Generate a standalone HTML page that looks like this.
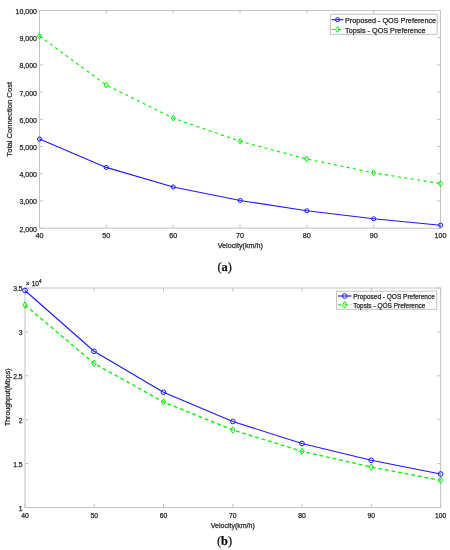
<!DOCTYPE html>
<html><head><meta charset="utf-8"><style>
html,body{margin:0;padding:0;background:#fff;width:450px;height:550px;overflow:hidden}
svg{display:block;font-family:"Liberation Sans",Arial,sans-serif}
text{stroke:#2a2a2a;stroke-width:0.25px}
</style></head><body>
<svg width="450" height="550" viewBox="0 0 450 550">
<rect x="39.5" y="10.5" width="401" height="217.7" fill="none" stroke="#c4c4c4" stroke-width="1"/>
<path d="M39.5 228.2v-3.5M39.5 10.5v3.5" stroke="#c4c4c4" stroke-width="1"/>
<text x="39.5" y="238.3" text-anchor="middle" font-size="7.2" fill="#262626">40</text>
<path d="M106.33 228.2v-3.5M106.33 10.5v3.5" stroke="#c4c4c4" stroke-width="1"/>
<text x="106.33" y="238.3" text-anchor="middle" font-size="7.2" fill="#262626">50</text>
<path d="M173.17 228.2v-3.5M173.17 10.5v3.5" stroke="#c4c4c4" stroke-width="1"/>
<text x="173.17" y="238.3" text-anchor="middle" font-size="7.2" fill="#262626">60</text>
<path d="M240 228.2v-3.5M240 10.5v3.5" stroke="#c4c4c4" stroke-width="1"/>
<text x="240" y="238.3" text-anchor="middle" font-size="7.2" fill="#262626">70</text>
<path d="M306.83 228.2v-3.5M306.83 10.5v3.5" stroke="#c4c4c4" stroke-width="1"/>
<text x="306.83" y="238.3" text-anchor="middle" font-size="7.2" fill="#262626">80</text>
<path d="M373.67 228.2v-3.5M373.67 10.5v3.5" stroke="#c4c4c4" stroke-width="1"/>
<text x="373.67" y="238.3" text-anchor="middle" font-size="7.2" fill="#262626">90</text>
<path d="M440.5 228.2v-3.5M440.5 10.5v3.5" stroke="#c4c4c4" stroke-width="1"/>
<text x="440.5" y="238.3" text-anchor="middle" font-size="7.2" fill="#262626">100</text>
<path d="M39.5 228.2h3.5M440.5 228.2h-3.5" stroke="#c4c4c4" stroke-width="1"/>
<text x="37" y="231.56" text-anchor="end" font-size="7" fill="#262626">2,000</text>
<path d="M39.5 200.99h3.5M440.5 200.99h-3.5" stroke="#c4c4c4" stroke-width="1"/>
<text x="37" y="204.35" text-anchor="end" font-size="7" fill="#262626">3,000</text>
<path d="M39.5 173.77h3.5M440.5 173.77h-3.5" stroke="#c4c4c4" stroke-width="1"/>
<text x="37" y="177.13" text-anchor="end" font-size="7" fill="#262626">4,000</text>
<path d="M39.5 146.56h3.5M440.5 146.56h-3.5" stroke="#c4c4c4" stroke-width="1"/>
<text x="37" y="149.92" text-anchor="end" font-size="7" fill="#262626">5,000</text>
<path d="M39.5 119.35h3.5M440.5 119.35h-3.5" stroke="#c4c4c4" stroke-width="1"/>
<text x="37" y="122.71" text-anchor="end" font-size="7" fill="#262626">6,000</text>
<path d="M39.5 92.14h3.5M440.5 92.14h-3.5" stroke="#c4c4c4" stroke-width="1"/>
<text x="37" y="95.5" text-anchor="end" font-size="7" fill="#262626">7,000</text>
<path d="M39.5 64.93h3.5M440.5 64.93h-3.5" stroke="#c4c4c4" stroke-width="1"/>
<text x="37" y="68.29" text-anchor="end" font-size="7" fill="#262626">8,000</text>
<path d="M39.5 37.71h3.5M440.5 37.71h-3.5" stroke="#c4c4c4" stroke-width="1"/>
<text x="37" y="41.07" text-anchor="end" font-size="7" fill="#262626">9,000</text>
<path d="M39.5 10.5h3.5M440.5 10.5h-3.5" stroke="#c4c4c4" stroke-width="1"/>
<text x="37" y="13.86" text-anchor="end" font-size="7" fill="#262626">10,000</text>
<path d="M39.5 36 L106.2 85 L173.3 118.2 L240.2 141.3 L306.7 159 L373.5 172.8 L440.6 183.6" fill="none" stroke="#00f200" stroke-width="1.1" stroke-dasharray="3.2 3.3"/>
<path d="M39.5 33.1L41.5 36L39.5 38.9L37.5 36Z" fill="none" stroke="#00f200" stroke-width="1"/>
<path d="M106.2 82.1L108.2 85L106.2 87.9L104.2 85Z" fill="none" stroke="#00f200" stroke-width="1"/>
<path d="M173.3 115.3L175.3 118.2L173.3 121.1L171.3 118.2Z" fill="none" stroke="#00f200" stroke-width="1"/>
<path d="M240.2 138.4L242.2 141.3L240.2 144.2L238.2 141.3Z" fill="none" stroke="#00f200" stroke-width="1"/>
<path d="M306.7 156.1L308.7 159L306.7 161.9L304.7 159Z" fill="none" stroke="#00f200" stroke-width="1"/>
<path d="M373.5 169.9L375.5 172.8L373.5 175.7L371.5 172.8Z" fill="none" stroke="#00f200" stroke-width="1"/>
<path d="M440.6 180.7L442.6 183.6L440.6 186.5L438.6 183.6Z" fill="none" stroke="#00f200" stroke-width="1"/>
<path d="M39.5 139 L106.2 167.4 L173.2 187 L240.2 200.5 L306.8 210.8 L373.7 218.8 L440.6 225.2" fill="none" stroke="#1a1aff" stroke-width="1.1"/>
<circle cx="39.5" cy="139" r="2.05" fill="none" stroke="#1a1aff" stroke-width="1"/>
<circle cx="106.2" cy="167.4" r="2.05" fill="none" stroke="#1a1aff" stroke-width="1"/>
<circle cx="173.2" cy="187" r="2.05" fill="none" stroke="#1a1aff" stroke-width="1"/>
<circle cx="240.2" cy="200.5" r="2.05" fill="none" stroke="#1a1aff" stroke-width="1"/>
<circle cx="306.8" cy="210.8" r="2.05" fill="none" stroke="#1a1aff" stroke-width="1"/>
<circle cx="373.7" cy="218.8" r="2.05" fill="none" stroke="#1a1aff" stroke-width="1"/>
<circle cx="440.6" cy="225.2" r="2.05" fill="none" stroke="#1a1aff" stroke-width="1"/>
<rect x="330.5" y="14.3" width="106.7" height="20" fill="#fff" stroke="#c4c4c4" stroke-width="1"/>
<path d="M331.5 19.7H343.5" stroke="#1a1aff" stroke-width="1.1"/>
<circle cx="337.5" cy="19.7" r="2.05" fill="none" stroke="#1a1aff" stroke-width="1"/>
<path d="M331.5 29.5H343.5" stroke="#00f200" stroke-width="1.1" stroke-dasharray="3.2 3.3"/>
<path d="M337.5 26.6L339.5 29.5L337.5 32.4L335.5 29.5Z" fill="none" stroke="#00f200" stroke-width="1"/>
<text x="345" y="23.04" font-size="7.25" fill="#262626">Proposed - QOS Preference</text>
<text x="345" y="32.84" font-size="7.25" fill="#262626">Topsis - QOS Preference</text>
<text x="240.3" y="248" text-anchor="middle" font-size="7.2" fill="#262626">Velocity(km/h)</text>
<text transform="translate(11.6 119.3) rotate(-90)" text-anchor="middle" font-size="7.65" fill="#262626">Total Connection Cost</text>
<rect x="25" y="288" width="415.6" height="219.5" fill="none" stroke="#c4c4c4" stroke-width="1"/>
<path d="M25 507.5v-3.5M25 288v3.5" stroke="#c4c4c4" stroke-width="1"/>
<text x="25" y="517.6" text-anchor="middle" font-size="6.8" fill="#262626">40</text>
<path d="M94.27 507.5v-3.5M94.27 288v3.5" stroke="#c4c4c4" stroke-width="1"/>
<text x="94.27" y="517.6" text-anchor="middle" font-size="6.8" fill="#262626">50</text>
<path d="M163.53 507.5v-3.5M163.53 288v3.5" stroke="#c4c4c4" stroke-width="1"/>
<text x="163.53" y="517.6" text-anchor="middle" font-size="6.8" fill="#262626">60</text>
<path d="M232.8 507.5v-3.5M232.8 288v3.5" stroke="#c4c4c4" stroke-width="1"/>
<text x="232.8" y="517.6" text-anchor="middle" font-size="6.8" fill="#262626">70</text>
<path d="M302.07 507.5v-3.5M302.07 288v3.5" stroke="#c4c4c4" stroke-width="1"/>
<text x="302.07" y="517.6" text-anchor="middle" font-size="6.8" fill="#262626">80</text>
<path d="M371.33 507.5v-3.5M371.33 288v3.5" stroke="#c4c4c4" stroke-width="1"/>
<text x="371.33" y="517.6" text-anchor="middle" font-size="6.8" fill="#262626">90</text>
<path d="M440.6 507.5v-3.5M440.6 288v3.5" stroke="#c4c4c4" stroke-width="1"/>
<text x="440.6" y="517.6" text-anchor="middle" font-size="6.8" fill="#262626">100</text>
<path d="M25 507.5h3.5M440.6 507.5h-3.5" stroke="#c4c4c4" stroke-width="1"/>
<text x="22.6" y="510.76" text-anchor="end" font-size="6.8" fill="#262626">1</text>
<path d="M25 463.6h3.5M440.6 463.6h-3.5" stroke="#c4c4c4" stroke-width="1"/>
<text x="22.6" y="466.86" text-anchor="end" font-size="6.8" fill="#262626">1.5</text>
<path d="M25 419.7h3.5M440.6 419.7h-3.5" stroke="#c4c4c4" stroke-width="1"/>
<text x="22.6" y="422.96" text-anchor="end" font-size="6.8" fill="#262626">2</text>
<path d="M25 375.8h3.5M440.6 375.8h-3.5" stroke="#c4c4c4" stroke-width="1"/>
<text x="22.6" y="379.06" text-anchor="end" font-size="6.8" fill="#262626">2.5</text>
<path d="M25 331.9h3.5M440.6 331.9h-3.5" stroke="#c4c4c4" stroke-width="1"/>
<text x="22.6" y="335.16" text-anchor="end" font-size="6.8" fill="#262626">3</text>
<path d="M25 288h3.5M440.6 288h-3.5" stroke="#c4c4c4" stroke-width="1"/>
<text x="22.6" y="291.26" text-anchor="end" font-size="6.8" fill="#262626">3.5</text>
<path d="M25 305 L94 363.3 L163.5 402 L232.8 430 L302 451.3 L371.2 467 L440.6 480.4" fill="none" stroke="#00f200" stroke-width="1.3" stroke-dasharray="3.8 2.9"/>
<path d="M25 301.8L27.2 305L25 308.2L22.8 305Z" fill="none" stroke="#00f200" stroke-width="1"/>
<path d="M94 360.1L96.2 363.3L94 366.5L91.8 363.3Z" fill="none" stroke="#00f200" stroke-width="1"/>
<path d="M163.5 398.8L165.7 402L163.5 405.2L161.3 402Z" fill="none" stroke="#00f200" stroke-width="1"/>
<path d="M232.8 426.8L235 430L232.8 433.2L230.6 430Z" fill="none" stroke="#00f200" stroke-width="1"/>
<path d="M302 448.1L304.2 451.3L302 454.5L299.8 451.3Z" fill="none" stroke="#00f200" stroke-width="1"/>
<path d="M371.2 463.8L373.4 467L371.2 470.2L369 467Z" fill="none" stroke="#00f200" stroke-width="1"/>
<path d="M440.6 477.2L442.8 480.4L440.6 483.6L438.4 480.4Z" fill="none" stroke="#00f200" stroke-width="1"/>
<path d="M25 290.5 L94 351.3 L163.5 392.2 L232.8 421.5 L302 443.5 L371.2 460.3 L440.6 474" fill="none" stroke="#1a1aff" stroke-width="1.15"/>
<circle cx="25" cy="290.5" r="2.35" fill="none" stroke="#1a1aff" stroke-width="1"/>
<circle cx="94" cy="351.3" r="2.35" fill="none" stroke="#1a1aff" stroke-width="1"/>
<circle cx="163.5" cy="392.2" r="2.35" fill="none" stroke="#1a1aff" stroke-width="1"/>
<circle cx="232.8" cy="421.5" r="2.35" fill="none" stroke="#1a1aff" stroke-width="1"/>
<circle cx="302" cy="443.5" r="2.35" fill="none" stroke="#1a1aff" stroke-width="1"/>
<circle cx="371.2" cy="460.3" r="2.35" fill="none" stroke="#1a1aff" stroke-width="1"/>
<circle cx="440.6" cy="474" r="2.35" fill="none" stroke="#1a1aff" stroke-width="1"/>
<rect x="336.5" y="291.2" width="100.2" height="18.1" fill="#fff" stroke="#c4c4c4" stroke-width="1"/>
<path d="M338 296H351.5" stroke="#1a1aff" stroke-width="1.1"/>
<circle cx="344.75" cy="296" r="2.35" fill="none" stroke="#1a1aff" stroke-width="1"/>
<path d="M338 304.8H351.5" stroke="#00f200" stroke-width="1.1" stroke-dasharray="3.2 3.3"/>
<path d="M344.75 301.6L346.95 304.8L344.75 308L342.55 304.8Z" fill="none" stroke="#00f200" stroke-width="1"/>
<text x="353.2" y="298.99" font-size="6.5" fill="#262626">Proposed - QOS Preference</text>
<text x="353.2" y="307.79" font-size="6.5" fill="#262626">Topsis - QOS Preference</text>
<text x="25.8" y="286" font-size="6.6" fill="#262626">×<tspan dx="2">10</tspan><tspan font-size="4.6" dy="-3">4</tspan></text>
<text x="232.8" y="527.5" text-anchor="middle" font-size="7" fill="#262626">Velocity(km/h)</text>
<text transform="translate(10.2 397.3) rotate(-90)" text-anchor="middle" font-size="7" fill="#262626">Throughput(Mbps)</text>
<text x="224.7" y="271.2" text-anchor="middle" font-family="Liberation Serif, serif" font-size="12.4" fill="#000">(<tspan font-weight="bold">a</tspan>)</text>
<text x="224.5" y="545.2" text-anchor="middle" font-family="Liberation Serif, serif" font-size="12.4" fill="#000">(<tspan font-weight="bold">b</tspan>)</text>
</svg>
</body></html>
